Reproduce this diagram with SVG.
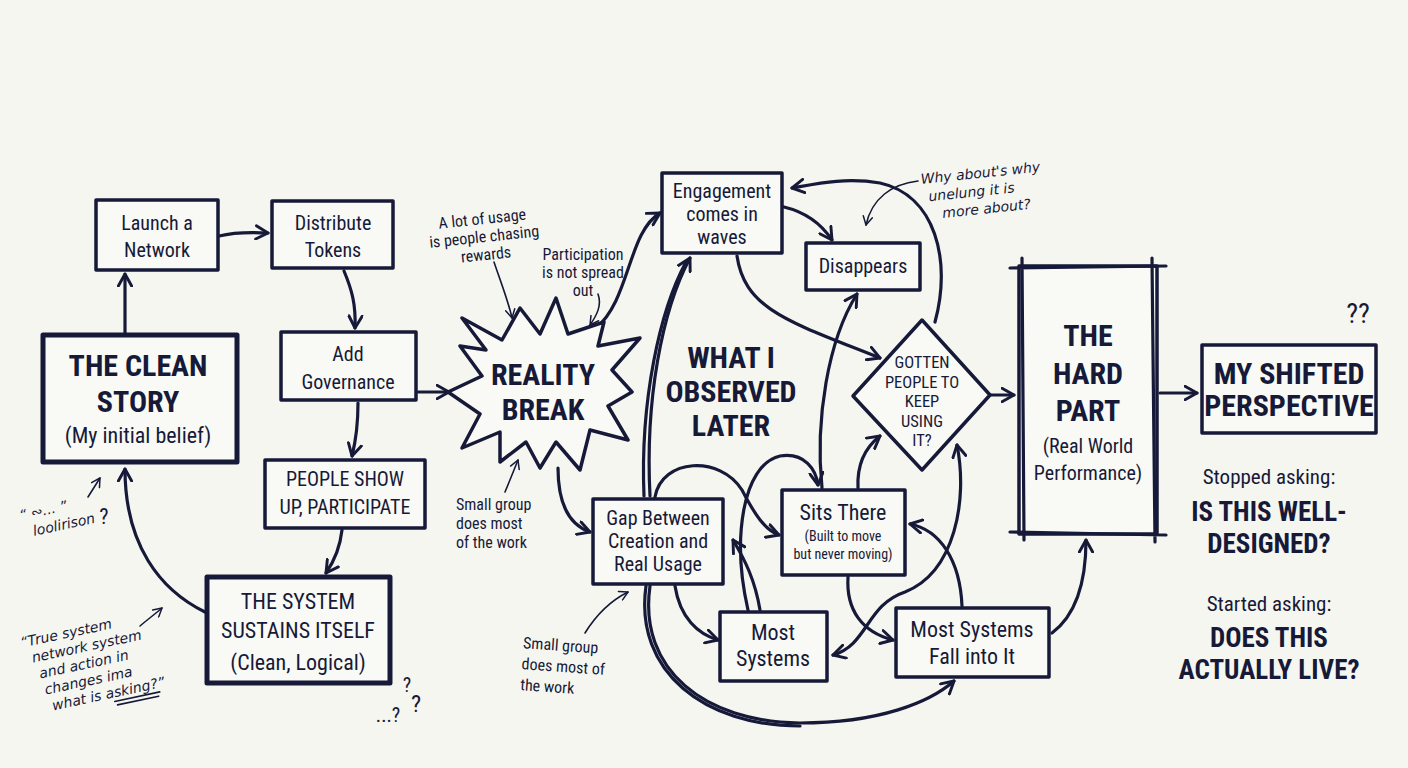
<svg xmlns="http://www.w3.org/2000/svg" width="1408" height="768" viewBox="0 0 1408 768">
<style>
.bg{fill:#f6f6f1}
.box{fill:#f9f9f5;stroke:#161a38;stroke-width:3.5;stroke-linejoin:round}
.thick{stroke-width:5}
.c{fill:none;stroke:#161a38;stroke-width:3.2;stroke-linecap:round}
.thin{fill:none;stroke:#161a38;stroke-width:1.6;stroke-linecap:round}
text{font-family:"Liberation Sans Narrow","Roboto Condensed","Roboto",sans-serif;fill:#161a38;text-anchor:middle}
.t19{font-size:20px}
.t22{font-size:22px}
.big{font-size:30px;font-weight:bold}
.note{font-size:16px}
.dm{font-size:16.5px}
.hand{font-family:"DejaVu Sans","Noto Sans",sans-serif;font-style:italic;font-size:14px;text-anchor:start}
</style>
<defs>
<marker id="ah" viewBox="0 0 12 12" refX="10" refY="6" markerWidth="5" markerHeight="5" orient="auto-start-reverse" markerUnits="strokeWidth">
<path d="M1,1 L10,6 L1,11" fill="none" stroke="#161a38" stroke-width="2.2" stroke-linecap="round" stroke-linejoin="round"/>
</marker>
<marker id="ahs" viewBox="0 0 12 12" refX="10" refY="6" markerWidth="7" markerHeight="7" orient="auto" markerUnits="strokeWidth">
<path d="M1,1 L10,6 L1,11" fill="none" stroke="#161a38" stroke-width="1.6" stroke-linecap="round" stroke-linejoin="round"/>
</marker>
</defs>
<rect class="bg" x="0" y="0" width="1408" height="768"/>

<g id="connectors">
<path class="c" d="M125,333 L125,274" marker-end="url(#ah)"/>
<path class="c" d="M219,236 C235,232 250,232 268,233" marker-end="url(#ah)"/>
<path class="c" d="M344,271 C352,290 356,305 355,328" marker-end="url(#ah)"/>
<path class="c" d="M358,403 C358,420 356,440 352,456" marker-end="url(#ah)"/>
<path class="c" d="M342,530 C340,548 335,560 326,573" marker-end="url(#ah)"/>
<path class="c" d="M205,612 C160,590 125,545 125,469" marker-end="url(#ah)"/>
<path class="c" d="M418,392 L449,392" marker-end="url(#ah)"/>
<path class="c" d="M596,328 C630,300 628,232 660,213" marker-end="url(#ah)"/>
<path class="c" d="M558,468 C558,505 570,525 590,532" marker-end="url(#ah)"/>
<path class="c" d="M650,496 C645,400 662,310 690,258" marker-end="url(#ah)"/>
<path class="c" d="M644,496 C640,400 660,310 686,262"/>
<path class="c" d="M784,207 C805,212 820,222 832,240" marker-end="url(#ah)"/>
<path class="c" d="M737,256 C745,310 790,322 880,358" marker-end="url(#ah)"/>
<path class="c" d="M935,322 C952,260 935,195 880,183 C845,177 815,184 792,188" marker-end="url(#ah)"/>
<path class="c" d="M822,488 C815,420 828,340 857,294" marker-end="url(#ah)"/>
<path class="c" d="M858,488 C857,468 862,450 880,436" marker-end="url(#ah)"/>
<path class="c" d="M655,497 C662,458 720,455 742,490 C755,515 765,530 779,535" marker-end="url(#ah)"/>
<path class="c" d="M760,610 C755,580 745,560 733,540" marker-end="url(#ah)"/>
<path class="c" d="M748,610 C732,540 742,465 780,456 C805,452 816,470 818,485" marker-end="url(#ah)"/>
<path class="c" d="M675,586 C680,618 698,634 718,640" marker-end="url(#ah)"/>
<path class="c" d="M650,586 C638,670 705,722 800,723 C880,723 930,702 954,681" marker-end="url(#ah)"/>
<path class="c" d="M646,586 C634,672 705,726 800,726"/>
<path class="c" d="M848,577 C846,610 862,632 893,640" marker-end="url(#ah)"/>
<path class="c" d="M833,655 C868,645 866,605 905,592 C955,572 968,500 957,445" marker-start="url(#ah)" marker-end="url(#ah)"/>
<path class="c" d="M962,606 C960,560 940,530 910,524" marker-end="url(#ah)"/>
<path class="c" d="M1052,633 C1080,612 1086,575 1086,540" marker-end="url(#ah)"/>
<path class="c" d="M991,395 L1014,395" marker-end="url(#ah)"/>
<path class="c" d="M1160,393 L1197,393" marker-end="url(#ah)"/>
<!-- note pointers -->
<path class="thin" d="M494,262 C500,280 508,300 512,318" marker-end="url(#ahs)"/>
<path class="thin" d="M598,294 C602,305 597,315 590,325" marker-end="url(#ahs)"/>
<path class="thin" d="M505,492 C510,480 514,470 518,460" marker-end="url(#ahs)"/>
<path class="thin" d="M585,633 C598,612 612,600 628,592" marker-end="url(#ahs)"/>
<path class="thin" d="M918,181 C892,184 872,198 866,225" marker-end="url(#ahs)"/>
<path class="thin" d="M88,497 L100,478" marker-end="url(#ahs)"/>
<path class="thin" d="M140,626 C147,620 155,614 162,608" marker-end="url(#ahs)"/>
</g>

<g id="launch"><rect class="box" x="96" y="200" width="122" height="70"/>
<text class="t19" x="157" y="230">Launch a</text><text class="t19" x="157" y="257">Network</text></g>

<g id="distribute"><rect class="box" x="272" y="201" width="121" height="67"/>
<text class="t19" x="333" y="230">Distribute</text><text class="t19" x="333" y="257">Tokens</text></g>

<g id="clean"><rect class="box thick" x="43" y="335" width="194" height="127"/>
<text class="big" x="138" y="376">THE CLEAN</text><text class="big" x="138" y="412">STORY</text>
<text class="t22" x="138" y="443">(My initial belief)</text></g>

<g id="governance"><rect class="box" x="281" y="332" width="135" height="68"/>
<text class="t19" x="348" y="361">Add</text><text class="t19" x="348" y="389">Governance</text></g>

<g id="people"><rect class="box" x="265" y="460" width="160" height="68"/>
<text class="t19" x="345" y="486">PEOPLE SHOW</text><text class="t19" x="345" y="514">UP, PARTICIPATE</text></g>

<g id="sustains"><rect class="box thick" x="207" y="577" width="183" height="106"/>
<text class="t22" x="298" y="609">THE SYSTEM</text><text class="t22" x="298" y="638">SUSTAINS ITSELF</text>
<text class="t22" x="298" y="670">(Clean, Logical)</text></g>

<g id="reality">
<path class="box" stroke-width="4" d="M462,318 L502,340 L520,308 L540,334 L556,298 L568,334 L604,322 L598,346 L640,338 L612,370 L632,392 L608,406 L628,440 L590,430 L580,470 L556,442 L540,468 L526,442 L500,462 L500,432 L462,448 L480,414 L448,392 L482,376 L460,346 L486,350 Z"/>
<text class="big" x="543" y="385">REALITY</text><text class="big" x="543" y="420">BREAK</text></g>

<g id="observed">
<text class="big" x="731" y="368">WHAT I</text><text class="big" x="731" y="402">OBSERVED</text><text class="big" x="731" y="436">LATER</text></g>

<g id="engagement"><rect class="box" x="662" y="173" width="120" height="80"/>
<text class="t19" x="722" y="198">Engagement</text><text class="t19" x="722" y="221">comes in</text><text class="t19" x="722" y="244">waves</text></g>

<g id="disappears"><rect class="box" x="806" y="243" width="114" height="47"/>
<text class="t19" x="863" y="273">Disappears</text></g>

<g id="diamond"><path class="box" d="M922,320 L990,395 L922,470 L853,396 Z"/>
<text class="dm" x="922" y="368">GOTTEN</text><text class="dm" x="922" y="387.5">PEOPLE TO</text>
<text class="dm" x="922" y="407">KEEP</text><text class="dm" x="922" y="426.5">USING</text><text class="dm" x="922" y="446">IT?</text></g>

<g id="hardpart"><rect class="box" x="1019" y="266" width="138" height="268"/>
<path class="c" d="M1010,268 L1166,266 M1010,532 L1166,535 M1022,258 L1024,540 M1152,258 L1155,542" stroke-width="2"/>
<text class="big" x="1088" y="346">THE</text><text class="big" x="1088" y="384">HARD</text><text class="big" x="1088" y="421">PART</text>
<text class="t19" x="1088" y="453">(Real World</text><text class="t19" x="1088" y="480">Performance)</text></g>

<g id="shifted"><rect class="box" x="1202" y="345" width="174" height="88"/>
<text class="big" x="1289" y="384" font-weight="normal">MY SHIFTED</text><text class="big" x="1289" y="416" font-weight="normal">PERSPECTIVE</text></g>

<g id="gap"><rect class="box" x="593" y="499" width="130" height="85"/>
<text class="t19" x="658" y="525">Gap Between</text><text class="t19" x="658" y="548">Creation and</text><text class="t19" x="658" y="571">Real Usage</text></g>

<g id="sits"><rect class="box" x="782" y="490" width="123" height="85"/>
<text class="t22" x="843" y="520">Sits There</text>
<text x="843" y="541" font-size="14">(Built to move</text><text x="843" y="559" font-size="14">but never moving)</text></g>

<g id="most"><rect class="box" x="720" y="612" width="107" height="69"/>
<text class="t22" x="773" y="640">Most</text><text class="t22" x="773" y="666">Systems</text></g>

<g id="fall"><rect class="box" x="896" y="608" width="153" height="69"/>
<text class="t22" x="972" y="637">Most Systems</text><text class="t22" x="972" y="664">Fall into It</text></g>

<g id="asking">
<text x="1269" y="484" font-size="21">Stopped asking:</text>
<text x="1269" y="521" font-size="27" font-weight="bold">IS THIS WELL-</text>
<text x="1269" y="553" font-size="27" font-weight="bold">DESIGNED?</text>
<text x="1269" y="611" font-size="21">Started asking:</text>
<text x="1269" y="647" font-size="27" font-weight="bold">DOES THIS</text>
<text x="1269" y="679" font-size="27" font-weight="bold">ACTUALLY LIVE?</text>
<text x="1358" y="323" font-size="28" font-family="DejaVu Sans, sans-serif">??</text>
</g>

<g id="notes">
<g transform="rotate(-6 485 245)">
<text class="note" x="485" y="224">A lot of usage</text><text class="note" x="485" y="242">is people chasing</text><text class="note" x="485" y="260">rewards</text></g>
<text class="note" x="583" y="260">Participation</text><text class="note" x="583" y="278">is not spread</text><text class="note" x="583" y="296">out</text>
<text class="note" x="456" y="510" style="text-anchor:start">Small group</text><text class="note" x="456" y="529" style="text-anchor:start">does most</text><text class="note" x="456" y="548" style="text-anchor:start">of the work</text>
<g transform="rotate(4 520 660)">
<text class="note" x="522" y="648" style="text-anchor:start">Small group</text><text class="note" x="522" y="669" style="text-anchor:start">does most of</text><text class="note" x="522" y="690" style="text-anchor:start">the work</text></g>
<g transform="rotate(-6 960 190)">
<text class="hand" x="922" y="180">Why about's why</text><text class="hand" x="928" y="198">unelung it is</text><text class="hand" x="940" y="216">more about?</text></g>
<g transform="rotate(-12 50 515)">
<text class="hand" x="20" y="514">“ ∾...  ”</text><text class="hand" x="30" y="532">loolirison</text></g>
<text x="104" y="524" font-size="22" font-family="DejaVu Sans, sans-serif">?</text>
<g transform="rotate(-12 60 665)">
<text class="hand" x="26" y="640">“True system</text><text class="hand" x="34" y="657">network system</text>
<text class="hand" x="38" y="674">and action in</text><text class="hand" x="40" y="691">changes ima</text><text class="hand" x="44" y="708">what is asking?”</text>
<path class="thin" d="M106,712 L152,712 M108,716 L150,716"/></g>
<text x="407" y="692" font-size="20" font-family="DejaVu Sans, sans-serif">?</text>
<text x="388" y="722" font-size="20" font-family="DejaVu Sans, sans-serif">...?</text>
<text x="416" y="712" font-size="24" font-family="DejaVu Sans, sans-serif">?</text>
</g>
</svg>
